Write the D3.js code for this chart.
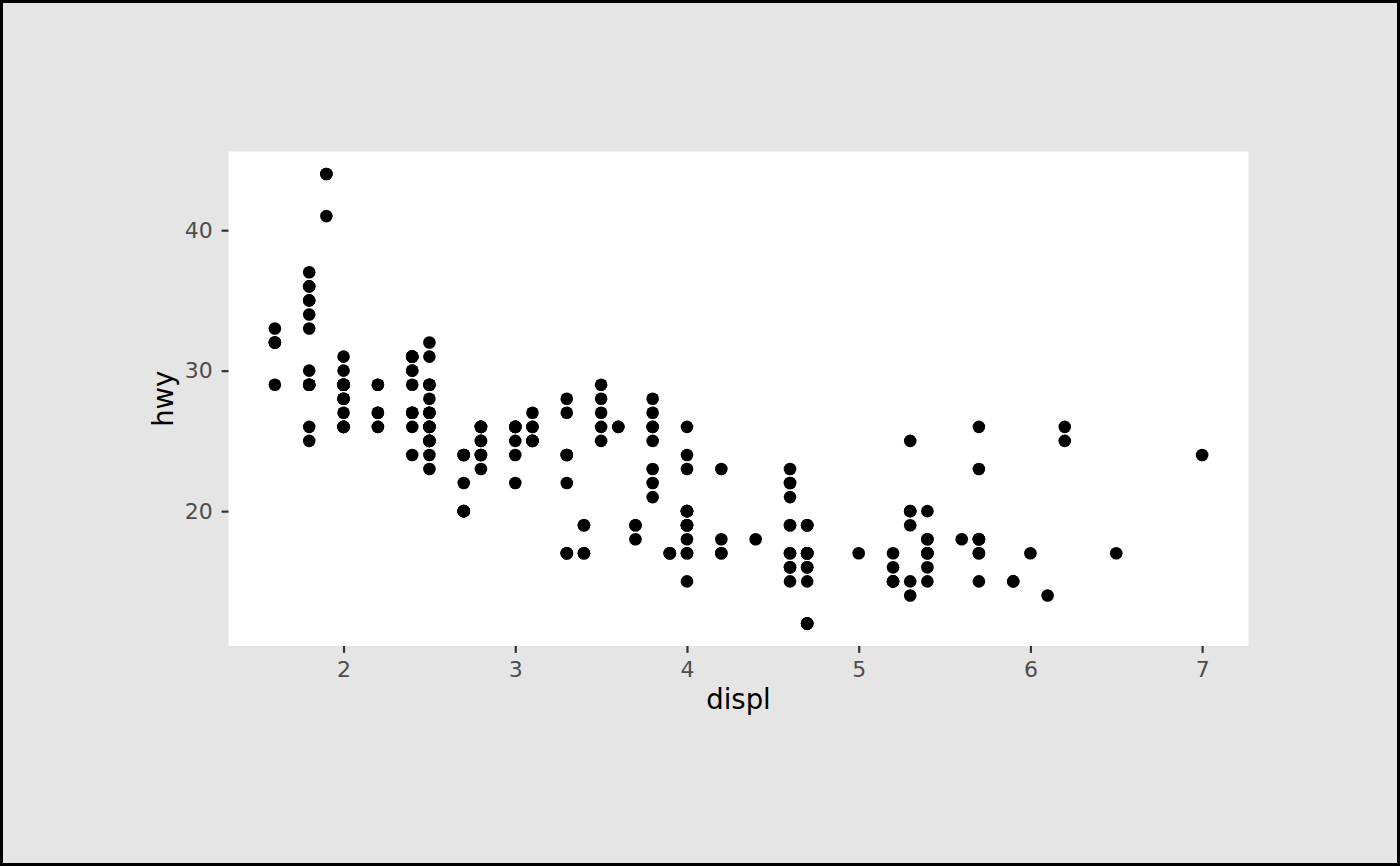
<!DOCTYPE html>
<html><head><meta charset="utf-8">
<script src="https://cdn.jsdelivr.net/npm/d3@7"></script>
<style>html,body{margin:0;padding:0;background:#fff;}svg{display:block;}</style>
</head><body>
<script>
const displ = [
  1.8,1.8,2.0,2.0,2.8,2.8,3.1,
  1.8,1.8,2.0,2.0,2.8,2.8,3.1,3.1,
  2.8,3.1,4.2,
  5.3,5.3,5.3,5.7,6.0,
  5.7,5.7,6.2,6.2,7.0,
  5.3,5.3,5.7,6.5,
  2.4,2.4,3.1,3.5,3.6,
  2.4,3.0,3.3,3.3,3.3,3.3,3.3,3.8,3.8,3.8,4.0,
  3.7,3.7,3.9,3.9,4.7,4.7,4.7,5.2,5.2,
  3.9,4.7,4.7,4.7,5.2,5.7,5.9,
  4.7,4.7,4.7,4.7,4.7,5.2,5.2,5.7,5.9,
  4.6,5.4,5.4,
  4.0,4.0,4.0,4.0,4.6,
  4.2,4.2,4.6,4.6,4.6,5.4,5.4,
  3.8,3.8,4.0,4.0,4.6,4.6,4.6,4.6,5.4,
  1.6,1.6,1.6,1.6,1.6,1.8,1.8,1.8,2.0,
  2.4,2.4,2.4,2.4,2.5,2.5,3.3,
  2.0,2.0,2.0,2.0,2.7,2.7,2.7,
  3.0,3.7,4.0,4.7,4.7,4.7,5.7,6.1,
  4.0,4.2,4.4,4.6,
  5.4,5.4,5.4,
  4.0,4.0,4.6,5.0,
  2.4,2.4,2.5,2.5,3.5,3.5,
  3.0,3.0,3.5,
  3.3,3.3,4.0,5.6,
  3.1,3.8,3.8,3.8,5.3,
  2.5,2.5,2.5,2.5,2.5,2.5,
  2.2,2.2,2.5,2.5,2.5,2.5,2.5,2.5,
  2.7,2.7,3.4,3.4,4.0,4.7,
  2.2,2.2,2.4,2.4,3.0,3.0,3.5,
  2.2,2.2,2.4,2.4,3.0,3.0,3.3,
  1.8,1.8,1.8,1.8,1.8,
  4.7,5.7,
  2.7,2.7,2.7,3.4,3.4,4.0,4.0,
  2.0,2.0,2.0,2.0,2.8,
  1.9,2.0,2.0,2.0,2.0,2.5,2.5,2.8,2.8,
  1.9,1.9,2.0,2.0,2.5,2.5,
  1.8,1.8,2.0,2.0,2.8,2.8,3.6
];
const hwy = [
  29,29,31,30,26,26,27,
  26,25,28,27,25,25,25,25,
  24,25,23,
  20,15,20,17,17,
  26,23,26,25,24,
  19,14,15,17,
  27,30,26,29,26,
  24,24,22,24,24,24,17,22,21,23,23,
  19,18,17,17,19,19,12,17,15,
  17,17,12,17,16,18,15,
  16,12,17,17,16,15,15,17,15,
  17,17,18,
  17,19,19,19,19,
  17,17,16,16,17,15,17,
  26,25,26,24,21,22,23,22,20,
  33,32,32,29,32,34,36,36,29,
  26,27,30,31,26,26,28,
  26,29,28,29,24,24,24,
  22,19,20,17,12,19,18,14,
  15,18,18,15,
  17,16,18,
  17,19,19,17,
  29,27,31,32,27,26,
  26,25,25,
  17,17,20,18,
  26,26,27,28,25,
  25,24,27,25,26,23,
  26,26,26,26,25,27,25,27,
  20,20,19,17,20,17,
  29,27,31,31,26,26,28,
  27,29,31,31,26,26,27,
  30,33,35,37,35,
  15,18,
  20,20,22,17,19,18,20,
  29,26,29,29,24,
  44,29,26,29,29,29,29,23,24,
  44,41,29,26,28,29,
  29,29,28,29,26,26,26
];
const xTicks = [2,3,4,5,6,7];
const yTicks = [20,30,40];
const xTitle = "displ";
const yTitle = "hwy";

const W = 1400, H = 866;
const panel = {left: 228.5, right: 1248.5, top: 151.5, bottom: 646};

const svg = d3.select("body").append("svg").attr("width", W).attr("height", H);
svg.append("rect").attr("x",0).attr("y",0).attr("width",W).attr("height",H).attr("fill","#E5E5E5");
svg.append("rect").attr("x",1.5).attr("y",1.5).attr("width",W-3).attr("height",H-3)
  .attr("fill","none").attr("stroke","#000").attr("stroke-width",3);

const xExt = d3.extent(displ), yExt = d3.extent(hwy);
const xPad = (xExt[1]-xExt[0])*0.05, yPad = (yExt[1]-yExt[0])*0.05;
const x = d3.scaleLinear().domain([xExt[0]-xPad, xExt[1]+xPad]).range([panel.left, panel.right]);
const y = d3.scaleLinear().domain([yExt[0]-yPad, yExt[1]+yPad]).range([panel.bottom, panel.top]);

svg.append("rect").attr("x",panel.left).attr("y",panel.top)
  .attr("width",panel.right-panel.left).attr("height",panel.bottom-panel.top).attr("fill","#fff");

const n = Math.min(displ.length, hwy.length);
const pts = d3.range(n).map(i=>({x:displ[i],y:hwy[i]}));
svg.append("g").selectAll("circle").data(pts).join("circle")
  .attr("cx",d=>x(d.x)).attr("cy",d=>y(d.y)).attr("r",6.3).attr("fill","#000");

const font = "DejaVu Sans, sans-serif";
const xAxis = svg.append("g").attr("transform",`translate(0,${panel.bottom})`)
  .call(d3.axisBottom(x).tickValues(xTicks).tickSize(6.9).tickPadding(8.5).tickFormat(d3.format("d")));
const yAxis = svg.append("g").attr("transform",`translate(${panel.left},0)`)
  .call(d3.axisLeft(y).tickValues(yTicks).tickSize(6.9).tickPadding(8.9).tickFormat(d3.format("d")));
[xAxis,yAxis].forEach(g=>{
  g.attr("font-size",null).attr("font-family",null);
  g.select(".domain").remove();
  g.selectAll(".tick line").attr("stroke","#333333").attr("stroke-width",2.2);
  g.selectAll(".tick text").attr("fill","#4D4D4D").style("font-family",font).style("font-size","22px");
});

svg.append("text").attr("x",(panel.left+panel.right)/2).attr("y",709)
  .attr("text-anchor","middle").style("font-family",font).style("font-size","27.5px").attr("fill","#000").text(xTitle);
svg.append("text").attr("transform",`translate(173,${(panel.top+panel.bottom)/2}) rotate(-90)`)
  .attr("text-anchor","middle").style("font-family",font).style("font-size","27.5px").attr("fill","#000").text(yTitle);
</script>
</body></html>
